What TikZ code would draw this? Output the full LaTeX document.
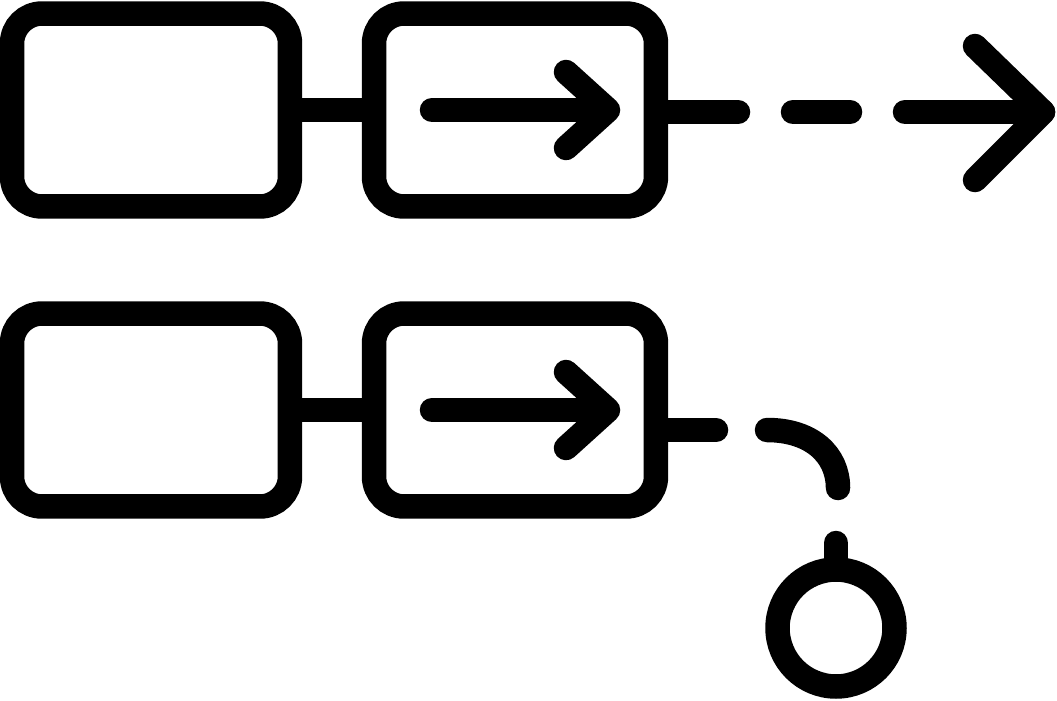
\documentclass[tikz,border=0pt]{standalone}
\usepackage{tikz}
\usetikzlibrary{arrows.meta, positioning, calc}

\begin{document}
\begin{tikzpicture}[
        x=0.02cm, y=-0.02cm,
        box/.style={draw, line width=0.49cm, rounded corners=0.6cm,
                    minimum height=3.86cm, inner sep=0pt},
        link/.style={line width=0.49cm},
        arr/.style={line width=0.49cm, line cap=round, line join=round},
        ring/.style={circle, draw, line width=0.49cm,
                     minimum size=2.34cm, inner sep=0pt},
      ]
        \useasboundingbox (0,0) rectangle (1057,700);

        \foreach \r/\y in {1/110, 2/410} {
          \node[box, minimum width=5.56cm] (a\r) at (151, \y) {};
          \node[box, minimum width=5.64cm] (b\r) at (515, \y) {};
          \draw[link] (a\r) -- (b\r);
          \draw[arr] (432, \y) -- (604, \y);
          \draw[arr] (566, \y-38) -- (608, \y) -- (566, \y+38);
        }

        % top row: dashed way out
        \coordinate (d1) at (738, 112);
        \coordinate (d2) at (793, 112);
        \coordinate (d3) at (850, 112);
        \coordinate (d4) at (905, 112);
        \coordinate (tip) at (1043, 112);
        \draw[arr] (b1.east |- d1) -- (d1);
        \draw[arr] (d2) -- (d3);
        \draw[arr] (d4) -- (tip);
        \draw[arr] (975, 46) -- (tip) -- (975, 180);

        % bottom row: dashed way down to the stop
        \node[ring] (stop) at (836, 628) {};
        \coordinate (e1) at (716, 430);
        \coordinate (e2) at (767, 430);
        \coordinate (e3) at (838, 488);
        \coordinate (s1) at (836, 543);
        \draw[arr] (b2.east |- e1) -- (e1);
        \draw[arr] (e2) .. controls (812, 430) and (838, 455) .. (e3);
        \draw[arr] (s1) -- (stop.north);
      \end{tikzpicture}
\end{document}
